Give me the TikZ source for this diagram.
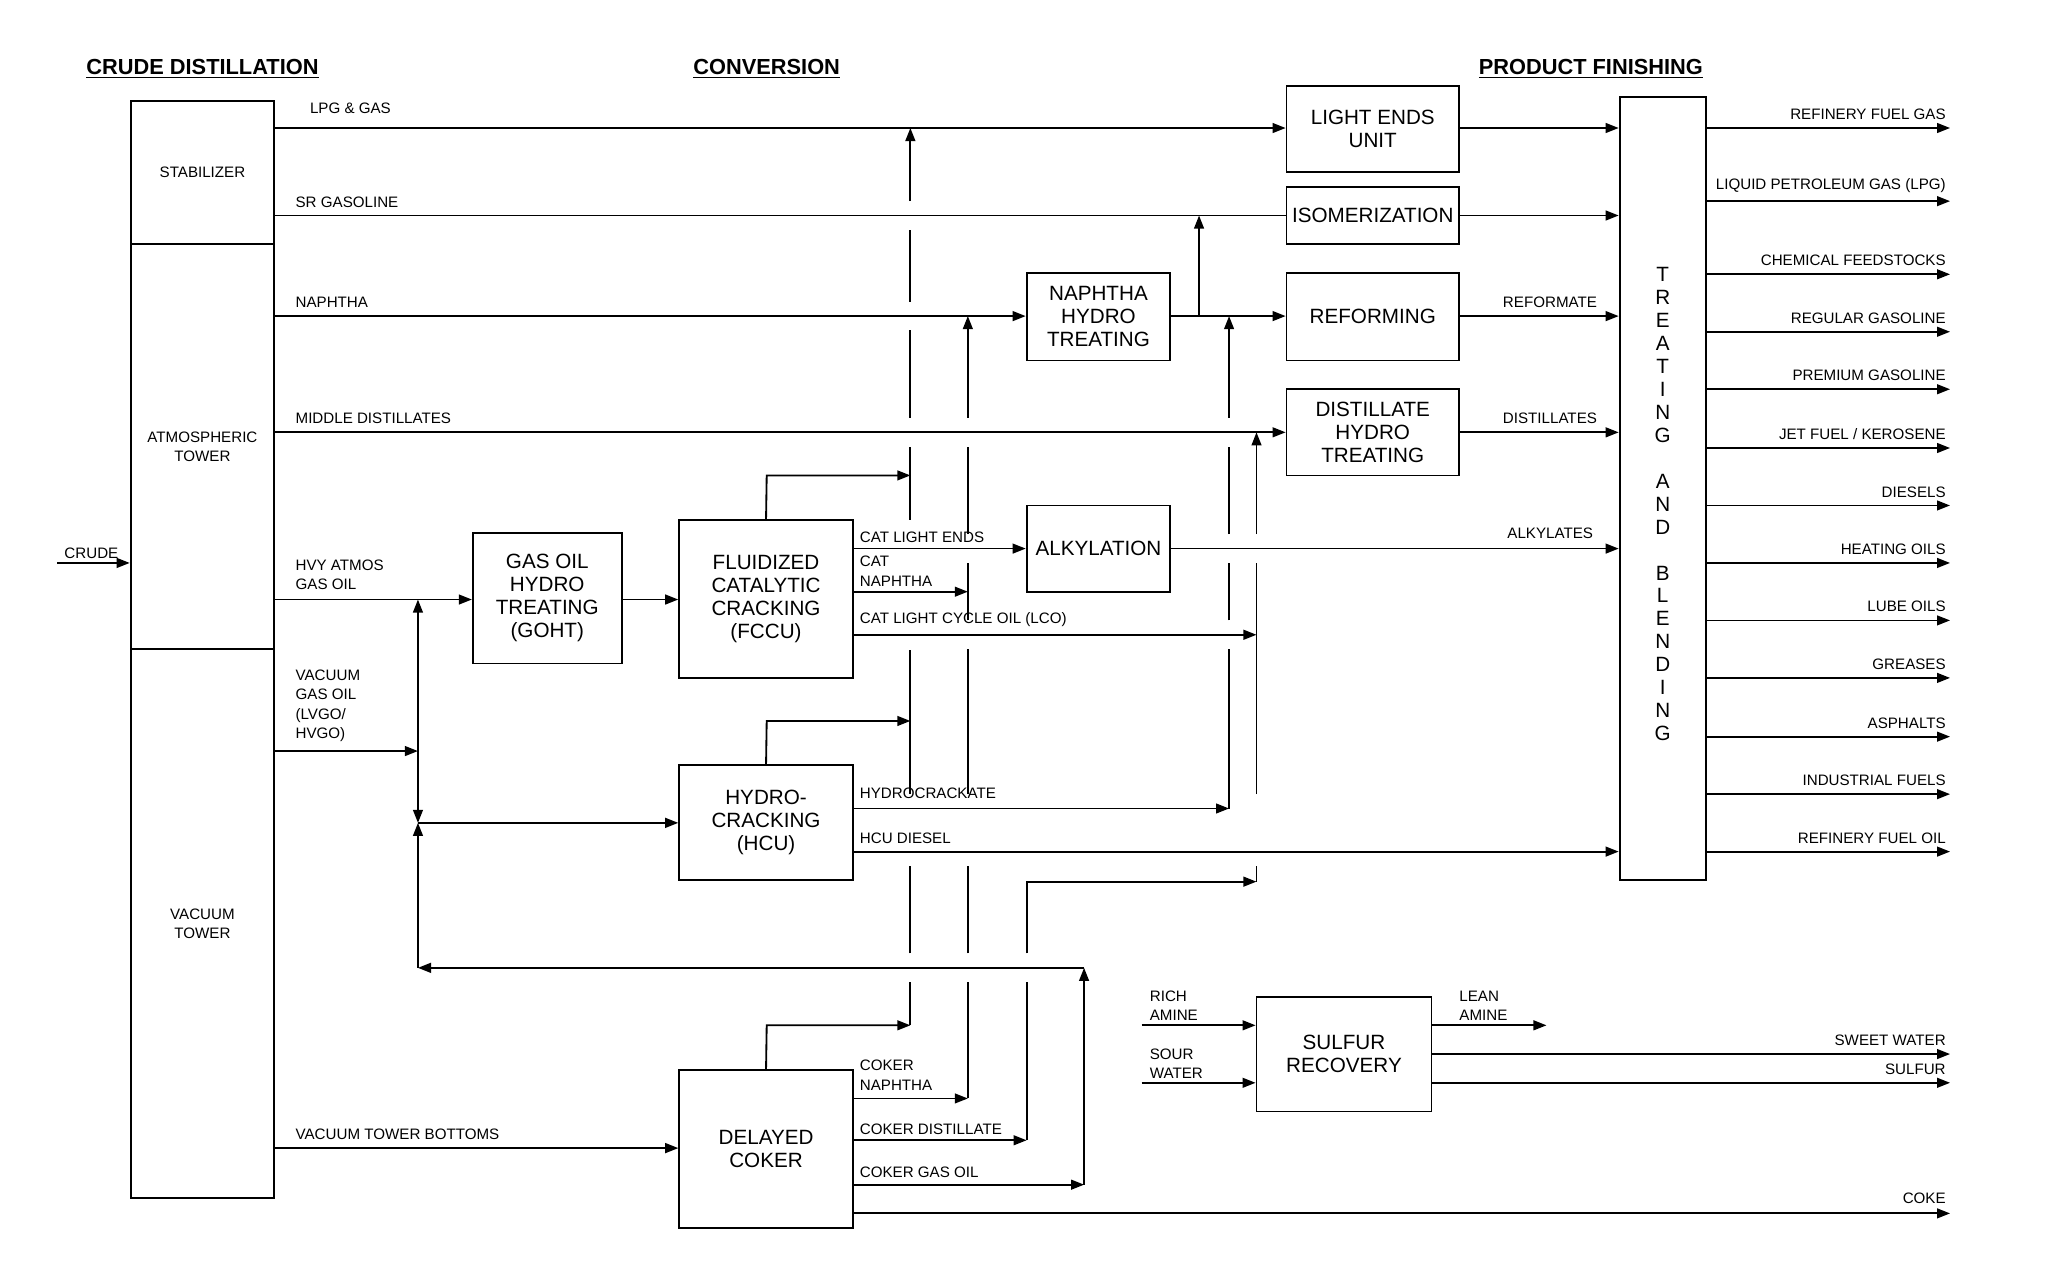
\documentclass[tikz,border=0pt]{standalone}
\usepackage{fontspec}
\setmainfont{Liberation Sans}
\usetikzlibrary{positioning,arrows.meta}

\tikzset{
  box/.style={draw, line width=0.8pt, align=center, inner sep=0pt,
              font=\fontsize{9}{10}\selectfont},
  tower/.style={box, minimum width=2.2cm, font=\fontsize{6.6}{8.2}\selectfont},
  lbl/.style={inner sep=0pt, align=left, font=\fontsize{6.6}{8.4}\selectfont},
  head/.style={inner sep=0pt, font=\fontsize{9.5}{11}\selectfont\bfseries},
  pipe/.style={line width=0.8pt},
  flow/.style={pipe, -{Triangle[length=0.2cm,width=0.15cm]}},
  flows/.style={pipe, {Triangle[length=0.2cm,width=0.15cm]}-{Triangle[length=0.2cm,width=0.15cm]}}
}

\begin{document}
\begin{tikzpicture}[x=0.02cm, y=-0.02cm]
	\useasboundingbox (0,0) rectangle (1568,967);

	% ------------------------------------------------
	% Section headings
	\node[head] at (155,53) {\underline{CRUDE DISTILLATION}};
	\node[head] at (587,53) {\underline{CONVERSION}};
	\node[head] at (1218,53) {\underline{PRODUCT FINISHING}};

	% ------------------------------------------------
	% Crude column
	\node[tower, minimum height=2.2cm] (stab) at (155,132) {STABILIZER};
	\node[tower, minimum height=6.2cm] (atm)  at (155,342) {ATMOSPHERIC\\TOWER};
	\node[tower, minimum height=8.4cm] (vac)  at (155,707) {VACUUM\\TOWER};

	% ----------------
	% Process units
	\node[box, minimum width=2.64cm, minimum height=1.32cm] (leu)  at (1051,99)    {LIGHT ENDS\\UNIT};
	\node[box, minimum width=2.64cm, minimum height=0.88cm] (iso)  at (1051,165)   {ISOMERIZATION};
	\node[box, minimum width=2.64cm, minimum height=1.34cm] (ref)  at (1051,242.5) {REFORMING};
	\node[box, minimum width=2.64cm, minimum height=1.32cm] (dht)  at (1051,331)   {DISTILLATE\\HYDRO\\TREATING};
	\node[box, minimum width=2.2cm,  minimum height=1.34cm] (nht)  at (841,242.5)  {NAPHTHA\\HYDRO\\TREATING};
	\node[box, minimum width=2.2cm,  minimum height=1.32cm] (alk)  at (841,420)    {ALKYLATION};
	\node[box, minimum width=2.28cm, minimum height=2.0cm]  (goht) at (419,458)    {GAS OIL\\HYDRO\\TREATING\\(GOHT)};
	\node[box, minimum width=2.66cm, minimum height=2.42cm] (fccu) at (586.5,458.5) {FLUIDIZED\\CATALYTIC\\CRACKING\\(FCCU)};
	\node[box, minimum width=2.66cm, minimum height=1.76cm] (hcu)  at (586.5,630)  {HYDRO-\\CRACKING\\(HCU)};
	\node[box, minimum width=2.66cm, minimum height=2.42cm] (dc)   at (586.5,879.5) {DELAYED\\COKER};
	\node[box, minimum width=2.68cm, minimum height=1.76cm] (sru)  at (1029,807)   {SULFUR\\RECOVERY};
	\node[box, minimum width=1.32cm, minimum height=12.0cm] (tb)   at (1273,374) {};
	\node[align=center, inner sep=0pt, font=\fontsize{9}{10}\selectfont] (tbtext) at (1273,386)
		{T\\R\\E\\A\\T\\I\\N\\G\\[10pt]A\\N\\D\\[10pt]B\\L\\E\\N\\D\\I\\N\\G};

	% ------------------------------------------------
	% Crude feed
	\coordinate (crude) at (44,431);
	\draw[flow] (crude) -- (atm.west |- crude);
	\node[lbl, anchor=south west] at (49,428) {CRUDE};

	% ------------------------------------------------
	% Straight run streams
	\draw[flow] (stab.east |- 0,98) -- (leu.west |- 0,98);
	\node[lbl, anchor=south west] at (237,87) {LPG \& GAS};
	\draw[pipe] (stab.east |- 0,165) -- (iso.west |- 0,165);
	\node[lbl, anchor=south west] at (226,159) {SR GASOLINE};
	\draw[flow] (atm.east |- 0,242) -- (nht.west |- 0,242);
	\node[lbl, anchor=south west] at (226,236) {NAPHTHA};
	\draw[flow] (atm.east |- 0,331) -- (dht.west |- 0,331);
	\node[lbl, anchor=south west] at (226,325) {MIDDLE DISTILLATES};
	\draw[flow] (atm.east |- 0,459) -- (goht.west |- 0,459);
	\node[lbl, anchor=south west] at (226,452) {HVY ATMOS\\GAS OIL};
	\draw[flow] (vac.east |- 0,575) -- (320,575);
	\node[lbl, anchor=south west] at (226,568) {VACUUM\\GAS OIL\\(LVGO/\\HVGO)};
	\draw[flow] (vac.east |- 0,879) -- (dc.west |- 0,879);
	\node[lbl, anchor=south west] at (226,873) {VACUUM TOWER BOTTOMS};

	% ----------------
	% Gas oil header
	\draw[flows] (320,630) -- (320,459);
	\draw[flow] (320,741) -- (320,630);
	\draw[flow] (320,630) -- (hcu.west |- 0,630);
	\draw[flow] (goht.east |- 0,459) -- (fccu.west |- 0,459);

	% ----------------
	% Unit light ends to gas header
	\draw[flow] (fccu.north) -- (587,364) -- (697,364);
	\draw[flow] (hcu.north) -- (587,552) -- (697,552);
	\draw[flow] (dc.north) -- (587,785) -- (697,785);

	% ----------------
	% FCCU products
	\draw[flow] (fccu.east |- 0,420) -- (alk.west |- 0,420);
	\node[lbl, anchor=south west] at (658,416) {CAT LIGHT ENDS};
	\draw[flow] (fccu.east |- 0,453) -- (741,453);
	\node[lbl, anchor=south west] at (658,449) {CAT\\NAPHTHA};
	\draw[flow] (fccu.east |- 0,486) -- (962,486);
	\node[lbl, anchor=south west] at (658,480) {CAT LIGHT CYCLE OIL (LCO)};

	% ----------------
	% HCU products
	\draw[flow] (hcu.east |- 0,619) -- (941,619);
	\node[lbl, anchor=south west] at (658,612) {HYDROCRACKATE};
	\draw[flow] (hcu.east |- 0,652) -- (tb.west |- 0,652);
	\node[lbl, anchor=south west] at (658,646) {HCU DIESEL};

	% ----------------
	% Coker products
	\draw[flow] (dc.east |- 0,841) -- (741,841);
	\node[lbl, anchor=south west] at (658,835) {COKER\\NAPHTHA};
	\draw[flow] (dc.east |- 0,873) -- (786,873);
	\node[lbl, anchor=south west] at (658,869) {COKER DISTILLATE};
	\draw[flow] (dc.east |- 0,907) -- (830,907);
	\node[lbl, anchor=south west] at (658,902) {COKER GAS OIL};
	\draw[flow] (dc.east |- 0,929) -- (1493,929);
	\node[lbl, anchor=south east] at (1490,922) {COKE};

	% ----------------
	% Risers (broken where streams cross)
	\draw[pipe] (697,785) -- (697,752) (697,730) -- (697,663) (697,608) -- (697,498)
	            (697,398) -- (697,342) (697,320) -- (697,253) (697,231) -- (697,176);
	\draw[flow] (697,154) -- (697,98);
	\draw[pipe] (741,841) -- (741,752) (741,730) -- (741,663) (741,608) -- (741,497)
	            (741,475) -- (741,431) (741,409) -- (741,342);
	\draw[flow] (741,320) -- (741,242);
	\draw[pipe] (786,873) -- (786,752);
	\draw[flow] (786,730) -- (786,675) -- (962,675);
	\draw[flow] (830,907) -- (830,741);
	\draw[flow] (830,741) -- (320,741);
	\draw[flow] (918,242) -- (918,165);
	\draw[pipe] (941,619) -- (941,497) (941,475) -- (941,431) (941,409) -- (941,342);
	\draw[flow] (941,320) -- (941,242);
	\draw[pipe] (962,675) -- (962,663) (962,608) -- (962,431);
	\draw[flow] (962,409) -- (962,331);

	% ----------------
	% Finishing feeds
	\draw[flow] (nht.east |- 0,242) -- (ref.west |- 0,242);
	\draw[flow] (leu.east |- 0,98) -- (tb.west |- 0,98);
	\draw[flow] (iso.east |- 0,165) -- (tb.west |- 0,165);
	\draw[flow] (ref.east |- 0,242) -- (tb.west |- 0,242);
	\node[lbl, anchor=south east] at (1223,236) {REFORMATE};
	\draw[flow] (dht.east |- 0,331) -- (tb.west |- 0,331);
	\node[lbl, anchor=south east] at (1223,325) {DISTILLATES};
	\draw[flow] (alk.east |- 0,420) -- (tb.west |- 0,420);
	\node[lbl, anchor=south east] at (1220,413) {ALKYLATES};

	% ------------------------------------------------
	% Products
	\foreach \y/\name in {98/REFINERY FUEL GAS, 154/LIQUID PETROLEUM GAS (LPG),
	                      210/CHEMICAL FEEDSTOCKS, 254/REGULAR GASOLINE,
	                      298/PREMIUM GASOLINE, 343/{JET FUEL / KEROSENE},
	                      387/DIESELS, 431/HEATING OILS, 475/LUBE OILS,
	                      519/GREASES, 564/ASPHALTS, 608/INDUSTRIAL FUELS,
	                      652/REFINERY FUEL OIL}{
		\draw[flow] (tb.east |- 0,\y) -- (1493,\y);
		\node[lbl, anchor=south east] at (1490,\y-6) {\name};
	}

	% ------------------------------------------------
	% Sulfur recovery
	\draw[flow] (874,785) -- (sru.west |- 0,785);
	\node[lbl, anchor=south west] at (880,782) {RICH\\AMINE};
	\draw[flow] (874,829) -- (sru.west |- 0,829);
	\node[lbl, anchor=south west] at (880,826) {SOUR\\WATER};
	\draw[flow] (sru.east |- 0,785) -- (1184,785);
	\node[lbl, anchor=south west] at (1117,782) {LEAN\\AMINE};
	\draw[flow] (sru.east |- 0,807) -- (1493,807);
	\node[lbl, anchor=south east] at (1490,801) {SWEET WATER};
	\draw[flow] (sru.east |- 0,829) -- (1493,829);
	\node[lbl, anchor=south east] at (1490,823) {SULFUR};

\end{tikzpicture}
\end{document}
